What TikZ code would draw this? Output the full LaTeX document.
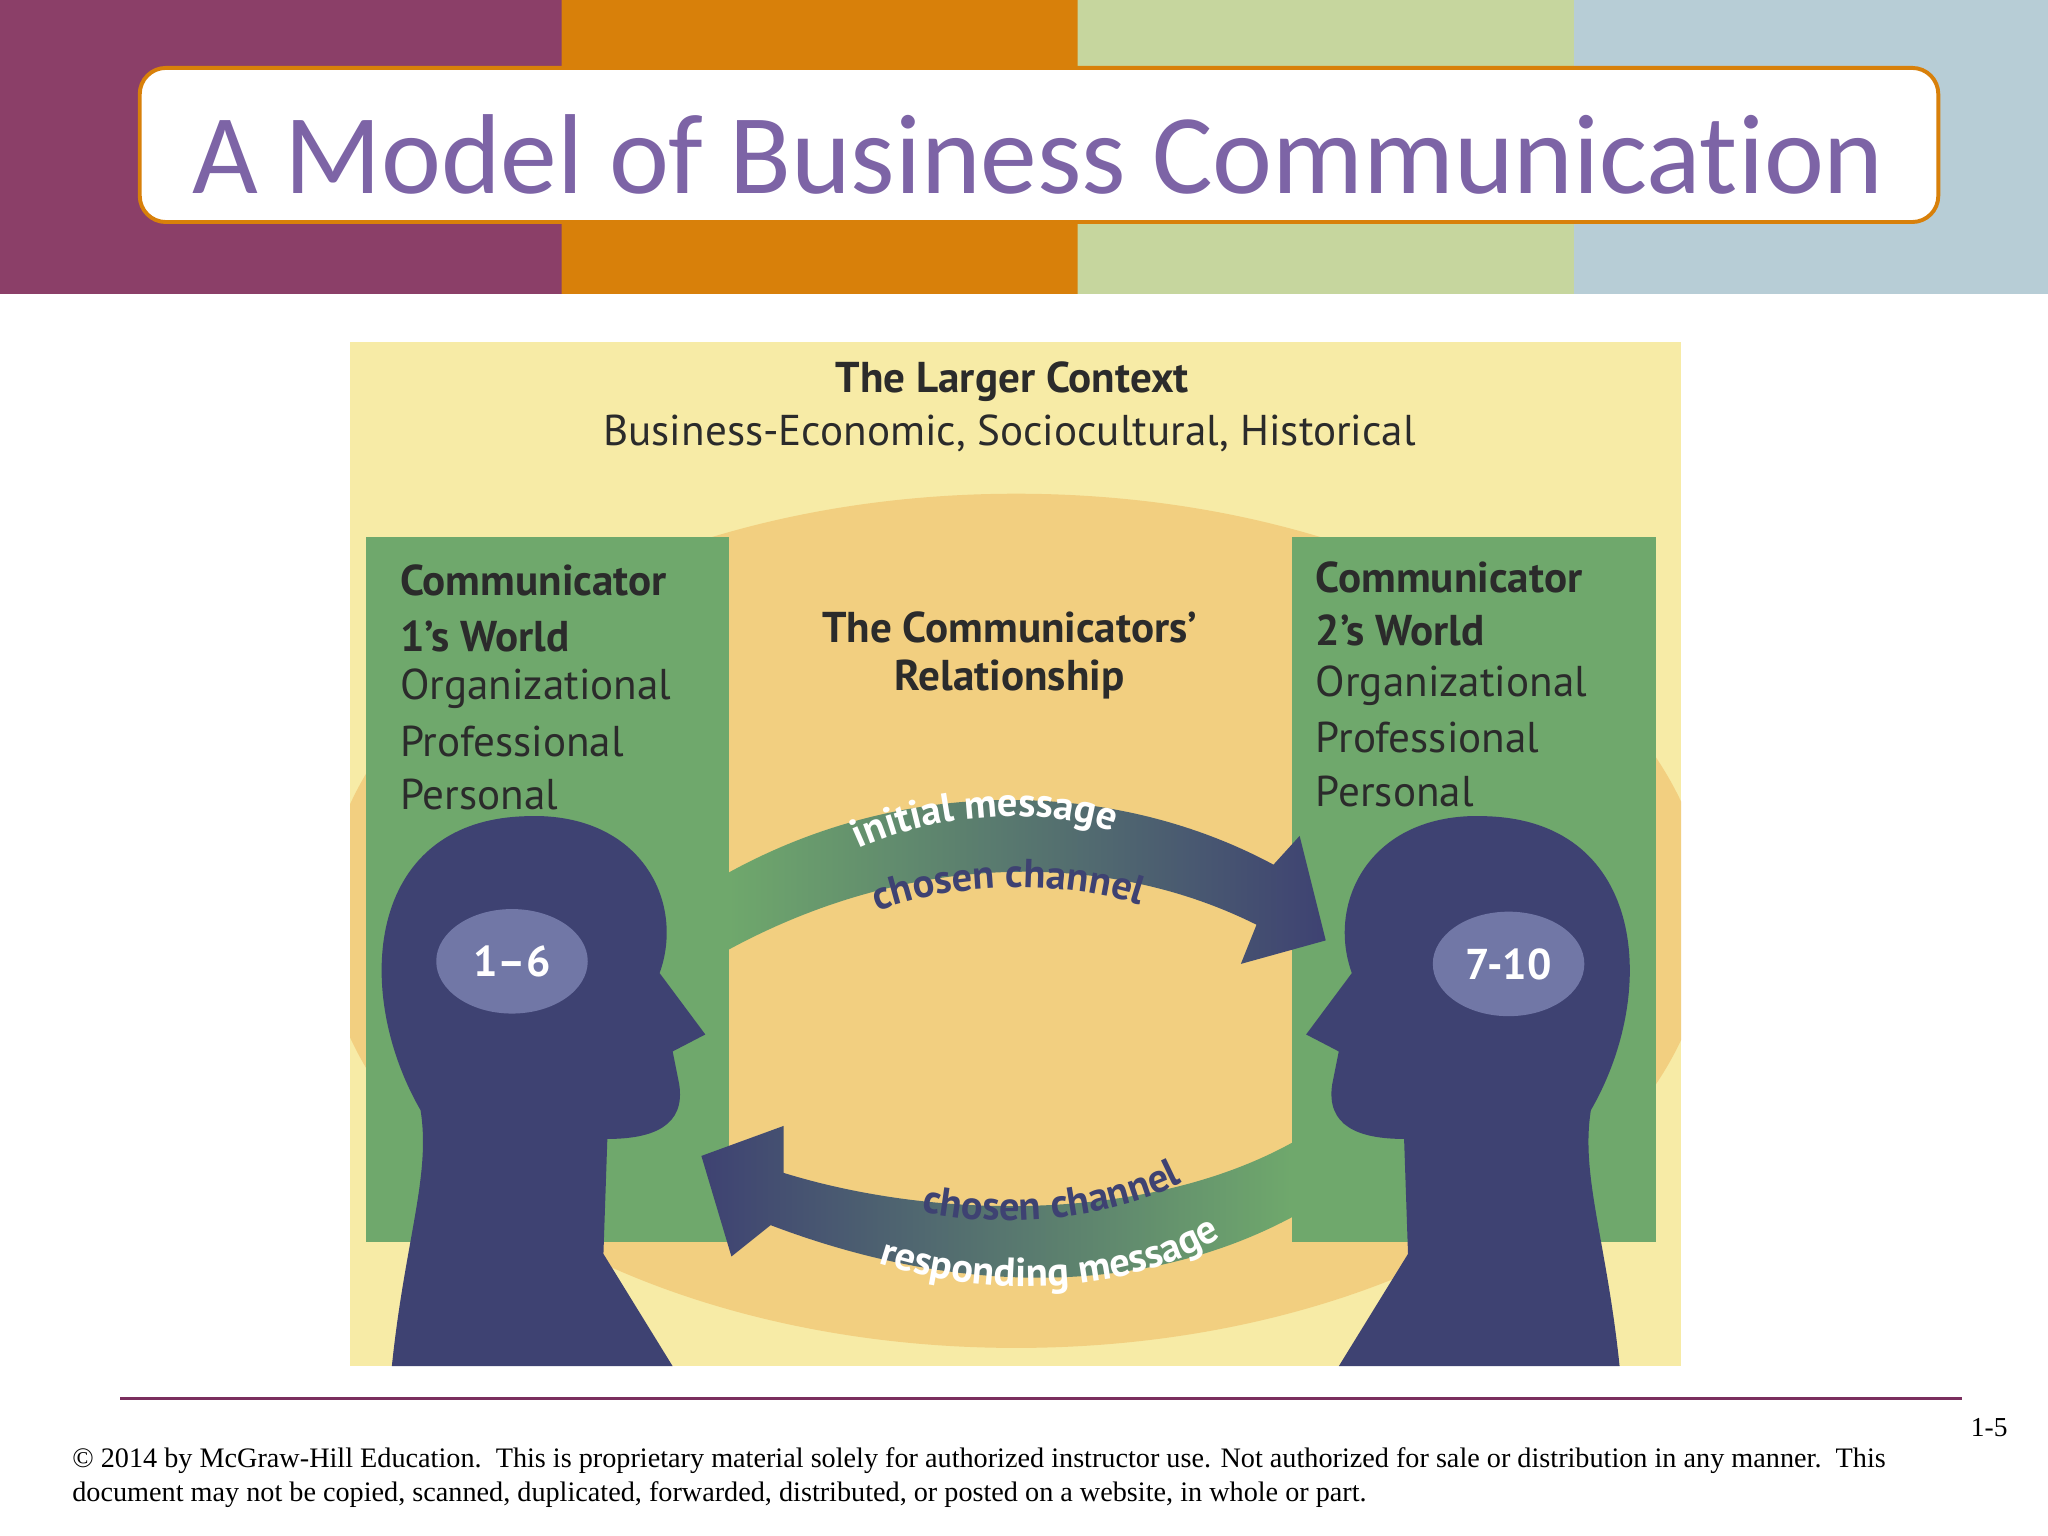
\documentclass[tikz,border=0pt]{standalone}
\usepackage{fontspec}
\setmainfont{Liberation Serif}
\newfontfamily\titlef[Ligatures=NoCommon]{Carlito}
\newfontfamily\diaf{PT Sans}
\usetikzlibrary{decorations.text,shapes.geometric}
\definecolor{bpurple}{HTML}{8B3F68}
\definecolor{borange}{HTML}{D8800A}
\definecolor{bgreen}{HTML}{C6D69E}
\definecolor{bblue}{HTML}{B7CDD6}
\definecolor{tpurple}{HTML}{7D64A6}
\definecolor{ylw}{HTML}{F7EBA6}
\definecolor{ell}{HTML}{F2CF80}
\definecolor{grn}{HTML}{6FA86C}
\definecolor{navy}{HTML}{3E4272}
\definecolor{oval}{HTML}{7177A6}
\definecolor{txt}{HTML}{2B2B2B}
\definecolor{fline}{HTML}{7A2E5E}
\tikzset{
 lbl/.style={font=\diaf\fontsize{16.5}{18}\selectfont,text=txt,anchor=west,inner sep=0},
 blbl/.style={lbl,font=\diaf\bfseries\fontsize{16.5}{18}\selectfont},
 ovl/.style={ellipse,fill=oval,minimum width=58pt,minimum height=40pt,text=white,font=\diaf\bfseries\fontsize{16.5}{18}\selectfont},
 foot/.style={font=\fontsize{10.8}{12}\selectfont,anchor=west,inner sep=0}
}
\begin{document}
\begin{tikzpicture}[x=0.5pt,y=-0.5pt]
\useasboundingbox (0,0) rectangle (1568,1176);
\fill[white] (0,0) rectangle (1568,1176);
% banner
\fill[bblue] (1150,225) -- (1150,0) -- (1530,0) arc[start angle=90,end angle=0,radius=38] -- (1568,225) -- cycle;
\fill[bgreen] (800,225) -- (800,0) -- (1180,0) arc[start angle=90,end angle=0,radius=25] -- (1205,225) -- cycle;
\fill[borange] (410,225) -- (410,0) -- (800,0) arc[start angle=90,end angle=0,radius=25] -- (825,225) -- cycle;
\fill[bpurple] (0,225) -- (0,0) -- (405,0) arc[start angle=90,end angle=0,radius=25] -- (430,225) -- cycle;
\node[draw=borange,line width=1.5pt,fill=white,rounded corners=10pt,minimum width=688.5pt,minimum height=59pt,inner sep=0] (tbox) at (795.5,111) {};
\node[font=\titlef\fontsize{43.5}{46}\selectfont,text=tpurple] (title) at (795,118) {A Model of Business Communication};
% diagram
\begin{scope}
\clip (268,262) rectangle (1287,1046);
\fill[ylw] (268,262) rectangle (1287,1046);
\fill[ell] (778,705) ellipse[x radius=530,y radius=327];
\fill[grn] (280,411) rectangle (558,951);
\fill[grn] (989,411) rectangle (1268,951);
% heads
\fill[navy] (300,1046) .. controls (310,950) and (330,900) .. (322,850) .. controls (270,760) and (280,630) .. (400,625) .. controls (490,620) and (525,690) .. (505,745) -- (540,792) -- (515,805) -- (520,830) .. controls (525,862) and (500,872) .. (465,872) -- (462,960) -- (515,1046) -- cycle;
\fill[navy] (1240,1046) .. controls (1230,950) and (1210,900) .. (1218,850) .. controls (1270,760) and (1260,630) .. (1140,625) .. controls (1050,620) and (1015,690) .. (1035,745) -- (1000,792) -- (1025,805) -- (1020,830) .. controls (1015,862) and (1040,872) .. (1075,872) -- (1078,960) -- (1025,1046) -- cycle;
% upper arrow
\shade[left color=grn,right color=navy] (558,668) .. controls (700,590) and (860,600) .. (975,662) -- (995,640) -- (1015,720) -- (950,738) -- (962,708) .. controls (850,652) and (700,650) .. (558,727) -- cycle;
% lower arrow
\shade[left color=navy,right color=grn] (989,875) .. controls (880,935) and (720,935) .. (600,898) -- (600,862) -- (537,885) -- (560,962) -- (590,938) .. controls (740,995) and (880,990) .. (989,932) -- cycle;
\end{scope}
\path[decorate,decoration={text along path,text align=center,text={|\diaf\bfseries\fontsize{15.5}{17}\selectfont\color{white}|initial message}}] (635,662) .. controls (700,620) and (820,612) .. (875,648);
\path[decorate,decoration={text along path,text align=center,text={|\diaf\bfseries\fontsize{15.5}{17}\selectfont\color{navy}|chosen channel}}] (655,705) .. controls (720,672) and (830,672) .. (890,700);
\path[decorate,decoration={text along path,text align=center,text={|\diaf\bfseries\fontsize{15.5}{17}\selectfont\color{navy}|chosen channel}}] (695,925) .. controls (770,945) and (860,932) .. (915,900);
\path[decorate,decoration={text along path,text align=center,text={|\diaf\bfseries\fontsize{15.5}{17}\selectfont\color{white}|responding message}}] (658,962) .. controls (760,1000) and (880,990) .. (948,938);
% texts
\node[blbl,anchor=center] (lc) at (775,292) {The Larger Context};
\node[lbl,anchor=center] (lc2) at (773,332) {Business-Economic, Sociocultural, Historical};
\node[blbl,anchor=center] (cr1) at (773,480) {The Communicators’};
\node[blbl,anchor=center] (cr2) at (773,520) {Relationship};
\node[blbl] (l1) at (306,444) {Communicator};
\node[blbl] (l2) at (306,487) {1’s World};
\node[lbl] (l3) at (306,527) {Organizational};
\node[lbl] (l4) at (306,568) {Professional};
\node[lbl] (l5) at (306,608) {Personal};
\node[blbl] (r1) at (1007,442) {Communicator};
\node[blbl] (r2) at (1007,483) {2’s World};
\node[lbl] (r3) at (1007,525) {Organizational};
\node[lbl] (r4) at (1007,565) {Professional};
\node[lbl] (r5) at (1007,606) {Personal};
\node[ovl] (o1) at (392,736) {1–6};
\node[ovl] (o2) at (1155,738) {7-10};
% footer
\draw[fline,line width=1.2pt] (92,1071) -- (1502,1071);
\node[font=\fontsize{10.5}{12}\selectfont] (pg) at (1523,1093) {1-5};
\node[foot] (f1) at (55,1118) {© 2014 by McGraw-Hill Education.\ \ This is proprietary material solely for authorized instructor use. Not authorized for sale or distribution in any manner.\ \ This};
\node[foot] (f2) at (55,1144) {document may not be copied, scanned, duplicated, forwarded, distributed, or posted on a website, in whole or part.};
\end{tikzpicture}
\end{document}
